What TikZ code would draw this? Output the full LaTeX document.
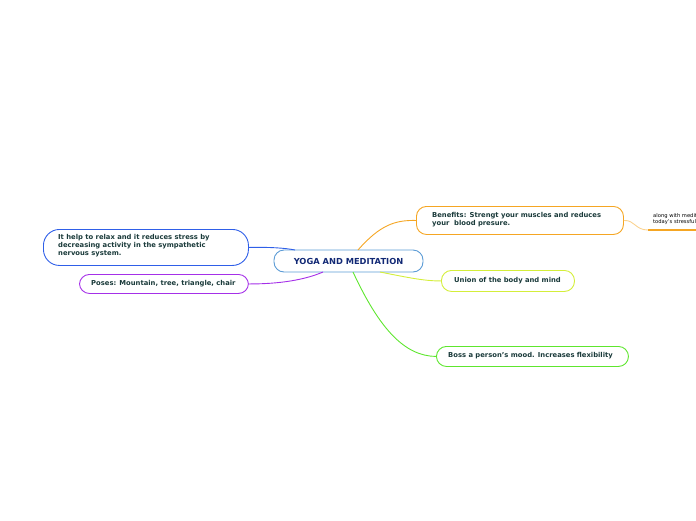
\documentclass[tikz,border=0pt]{standalone}
\usepackage{fontspec}
\setmainfont{DejaVu Sans}
\begin{document}
\begin{tikzpicture}[x=1pt,y=-1pt,
  box/.style={draw,line width=0.9pt,rounded corners=10pt,text=txt,font=\bfseries\fontsize{6.8}{8}\selectfont,inner sep=0pt,anchor=north west},
  lnk/.style={line width=0.9pt}]
\definecolor{txt}{HTML}{1A3A3A}
\definecolor{cb}{HTML}{5B9BD5}
\definecolor{co}{HTML}{F5A623}
\definecolor{cy}{HTML}{D4EE3A}
\definecolor{cg}{HTML}{5EE62E}
\definecolor{cblue}{HTML}{2F5FE8}
\definecolor{cp}{HTML}{A530E8}
\useasboundingbox (0,0) rectangle (696,520);
\clip (0,0) rectangle (696,520);
\node[box,draw=cb,minimum width=149pt,minimum height=22pt,text=txt!70!blue,font=\bfseries\fontsize{8.3}{10}\selectfont,anchor=center] (c) at (348.5,261) {YOGA AND MEDITATION};
\node[box,draw=co,minimum width=207pt,minimum height=28pt] (b) at (416,206) {};
\node[anchor=north west,text=txt,font=\bfseries\fontsize{6.8}{8.3}\selectfont,align=left,inner sep=0pt] (bt) at (432,212) {Benefits: Strengt your muscles and reduces\\your\ \ blood presure.};
\node[box,draw=cy,minimum width=133pt,minimum height=21pt] (u) at (441,270) {};
\node[anchor=west,text=txt,font=\bfseries\fontsize{6.8}{8}\selectfont,inner sep=0pt] (ut) at (454,280.5) {Union of the body and mind};
\node[box,draw=cg,minimum width=192pt,minimum height=20pt] (g) at (436,346) {};
\node[anchor=west,text=txt,font=\bfseries\fontsize{6.8}{8}\selectfont,inner sep=0pt] (gt) at (448,356) {Boss a person's mood. Increases flexibility};
\node[box,draw=cblue,minimum width=205pt,minimum height=36pt,rounded corners=16pt] (h) at (43,229) {};
\node[anchor=north west,text=txt,font=\bfseries\fontsize{6.8}{8.3}\selectfont,align=left,inner sep=0pt] (ht) at (58,234) {It help to relax and it reduces stress by\\decreasing activity in the sympathetic\\nervous system.};
\node[box,draw=cp,minimum width=169pt,minimum height=19pt] (p) at (79,274) {};
\node[anchor=west,text=txt,font=\bfseries\fontsize{6.8}{8}\selectfont,inner sep=0pt] (pt) at (91,283.5) {Poses: Mountain, tree, triangle, chair};
\node[anchor=north west,font=\fontsize{5.2}{6.2}\selectfont,align=left,inner sep=0pt] (a) at (653,213) {along with meditation can help\\today's stressful life};
\coordinate (a1) at (648,230);
\coordinate (a2) at (696,230);
\draw[co,line width=1.2pt] (a1) -- (a2);
\draw[co!50,lnk] (b.east) .. controls (635,220) and (635,230) .. (a1);
\draw[co,lnk] (358,250) .. controls (380,225) and (395,220) .. (b.west);
\draw[cy,lnk] (380,272) .. controls (410,278) and (425,281) .. (u.west);
\draw[cg,lnk] (353,272) .. controls (380,330) and (405,356) .. (g.west);
\draw[cblue,lnk] (h.east) .. controls (270,247) and (285,248) .. (295,250);
\draw[cp,lnk] (323,272) .. controls (300,282) and (270,284) .. (p.east);
\end{tikzpicture}
\end{document}
